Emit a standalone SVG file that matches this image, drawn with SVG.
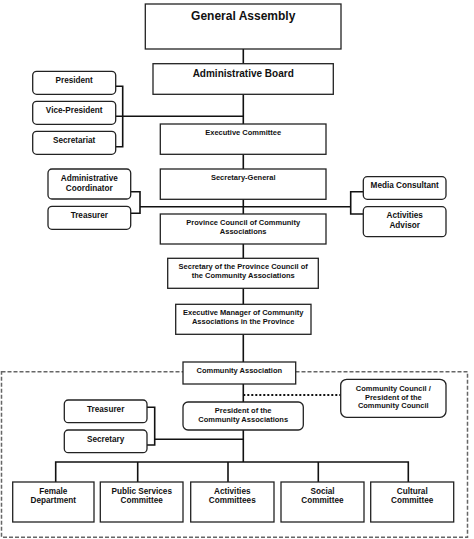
<svg xmlns="http://www.w3.org/2000/svg" width="474" height="539" viewBox="0 0 474 539">
<style>
.b{fill:#fff;stroke:#222;stroke-width:1.3}
.c{fill:none;stroke:#111;stroke-width:1.6}
text{font-family:"Liberation Sans",Arial,sans-serif;font-weight:bold;fill:#111;text-anchor:middle}
.s{font-size:7.5px}
.m{font-size:8.2px}
</style>
<rect width="474" height="539" fill="#fff"/>
<rect x="1.5" y="371.7" width="466" height="165.5" fill="none" stroke="#666" stroke-width="1.5" stroke-dasharray="4 2"/>
<g id="connectors">
<path class="c" d="M243.3 49V63.7M243.3 94.3V124M243.3 154.3V169M243.3 199.3V214M243.3 244V258.3M243.3 288.3V304.3M243.3 334.3V362M243.3 384V402M243.3 430V462"/>
<path class="c" d="M115.7 86.3H122.7V146.7H115.7M115.7 116.3H243.3"/>
<path class="c" d="M130.7 191.7H140V213.3H130.7M140 206.7H350.7M363.3 191.7H350.7V214H363.3"/>
<path class="c" d="M147 407.3H154.7V445H147M154.7 439.3H243.3"/>
<path class="c" d="M55.7 482V462H408.3V482M137.7 462V482M228 462V482M318.3 462V482"/>
<path d="M243.3 395H340.7" fill="none" stroke="#111" stroke-width="2" stroke-dasharray="2 2"/>
</g>
<g id="general-assembly"><rect class="b" x="145.3" y="4" width="195.7" height="45"/><text x="243.2" y="19.5" font-size="12px">General Assembly</text></g>
<g id="administrative-board"><rect class="b" x="153" y="63.7" width="180.3" height="30.6"/><text x="243.2" y="76.8" font-size="10px">Administrative Board</text></g>
<g id="president"><rect class="b" x="32.7" y="71.3" width="83" height="23" rx="4"/><text class="m" x="74.2" y="83">President</text></g>
<g id="vice-president"><rect class="b" x="32.7" y="101.3" width="83" height="23" rx="4"/><text class="m" x="74.2" y="113">Vice-President</text></g>
<g id="secretariat"><rect class="b" x="32.7" y="131.3" width="83" height="23" rx="4"/><text class="m" x="74.2" y="143">Secretariat</text></g>
<g id="executive-committee"><rect class="b" x="160.3" y="124" width="165.7" height="30.3"/><text class="s" x="243.2" y="134.7">Executive Committee</text></g>
<g id="secretary-general"><rect class="b" x="160.3" y="169" width="165.7" height="30.3"/><text class="s" x="243.2" y="180">Secretary-General</text></g>
<g id="administrative-coordinator"><rect class="b" x="48" y="169" width="82.7" height="30" rx="4"/><text class="m" x="89.3" y="180.5">Administrative</text><text class="m" x="89.3" y="190.5">Coordinator</text></g>
<g id="treasurer-top"><rect class="b" x="48" y="206.3" width="82.7" height="23" rx="4"/><text class="m" x="89.3" y="218.2">Treasurer</text></g>
<g id="media-consultant"><rect class="b" x="363.3" y="176.7" width="82.7" height="22.6" rx="4"/><text class="m" x="404.7" y="188.2">Media Consultant</text></g>
<g id="activities-advisor"><rect class="b" x="363.3" y="206.7" width="82.7" height="30" rx="4"/><text class="m" x="404.7" y="218.2">Activities</text><text class="m" x="404.7" y="228.2">Advisor</text></g>
<g id="province-council"><rect class="b" x="160.3" y="214" width="165.7" height="30"/><text class="s" x="243.2" y="225">Province Council of Community</text><text class="s" x="243.2" y="233.7">Associations</text></g>
<g id="secretary-province-council"><rect class="b" x="167.7" y="258.3" width="150.6" height="30"/><text class="s" x="243.2" y="269">Secretary of the Province Council of</text><text class="s" x="243.2" y="277.7">the Community Associations</text></g>
<g id="executive-manager"><rect class="b" x="175.7" y="304.3" width="135.3" height="30"/><text class="s" x="243.2" y="315.4">Executive Manager of Community</text><text class="s" x="243.2" y="324">Associations in the Province</text></g>
<g id="community-association"><rect class="b" x="183" y="362" width="112.7" height="22"/><text class="s" x="239.3" y="372.7">Community Association</text></g>
<g id="community-council"><rect class="b" x="340.7" y="379.3" width="105.3" height="38" rx="6"/><text class="s" x="393.3" y="391">Community Council /</text><text class="s" x="393.3" y="399.7">President of the</text><text class="s" x="393.3" y="408.4">Community Council</text></g>
<g id="president-community-associations"><rect class="b" x="183" y="402" width="120.3" height="28" rx="5"/><text class="s" x="243.2" y="413">President of the</text><text class="s" x="243.2" y="421.7">Community Associations</text></g>
<g id="treasurer"><rect class="b" x="64.3" y="400" width="82.7" height="22.7" rx="4"/><text class="m" x="105.7" y="411.6">Treasurer</text></g>
<g id="secretary"><rect class="b" x="64.3" y="430" width="82.7" height="22.7" rx="4"/><text class="m" x="105.7" y="441.6">Secretary</text></g>
<g id="female-department"><rect class="b" x="12.7" y="482" width="81.3" height="40"/><text class="m" x="53.3" y="493.6">Female</text><text class="m" x="53.3" y="502.9">Department</text></g>
<g id="public-services-committee"><rect class="b" x="100.3" y="482" width="82.7" height="40"/><text class="m" x="141.7" y="493.6">Public Services</text><text class="m" x="141.7" y="502.9">Committee</text></g>
<g id="activities-committees"><rect class="b" x="190.7" y="482" width="83.3" height="40"/><text class="m" x="232.3" y="493.6">Activities</text><text class="m" x="232.3" y="502.9">Committees</text></g>
<g id="social-committee"><rect class="b" x="281" y="482" width="83" height="40"/><text class="m" x="322.5" y="493.6">Social</text><text class="m" x="322.5" y="502.9">Committee</text></g>
<g id="cultural-committee"><rect class="b" x="370.7" y="482" width="83" height="40"/><text class="m" x="412.2" y="493.6">Cultural</text><text class="m" x="412.2" y="502.9">Committee</text></g>
</svg>
